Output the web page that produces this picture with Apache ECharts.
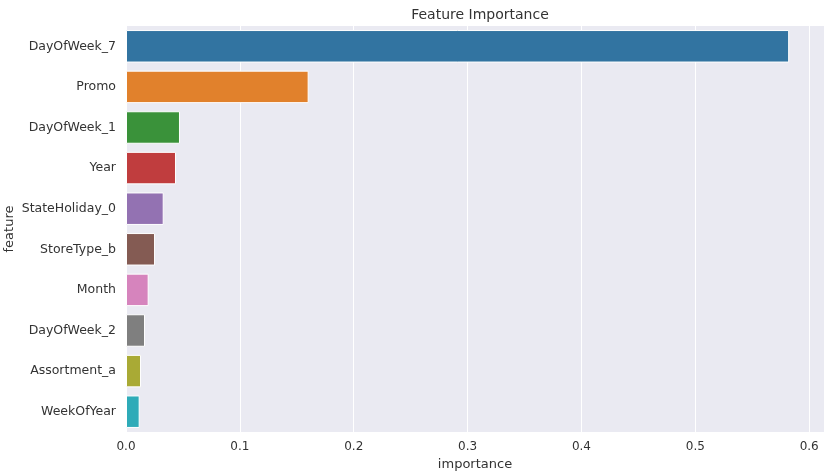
<!DOCTYPE html>
<html>
<head>
<meta charset="utf-8">
<script src="https://cdn.jsdelivr.net/npm/echarts@6/dist/echarts.min.js"></script>
<style>
  html, body { margin: 0; padding: 0; background: #fff; }
  #chart { width: 829px; height: 476px; }
</style>
</head>
<body>
<div id="chart"></div>
<script>
/* feature importance, seaborn-like barplot */

var features = ["DayOfWeek_7", "Promo", "DayOfWeek_1", "Year", "StateHoliday_0",
                "StoreType_b", "Month", "DayOfWeek_2", "Assortment_a", "WeekOfYear"];
var importance = [0.5824, 0.1604, 0.0474, 0.0439, 0.0331, 0.0255, 0.0199, 0.0167, 0.0132, 0.0120];
var barColors = ["#3274a1", "#e1812c", "#3a923a", "#c03d3e", "#9372b2",
                 "#845b53", "#d684bd", "#7f7f7f", "#a9aa35", "#2eabb8"];
var xTicks = [0, 0.1, 0.2, 0.3, 0.4, 0.5, 0.6];

var textColor = "#333";
var font = "DejaVu Sans";

var myChart = echarts.init(document.getElementById('chart'));

var barData = [];
for (var i = 0; i < features.length; i++) {
	barData.push({
		value: importance[i],
		itemStyle: { color: barColors[i] }
	});
}

option = {
	animation: false,
	backgroundColor: '#fff',
	title: {
		text: 'Feature Importance',
		left: 475,
		textAlign: 'center',
		top: 3,
		textStyle: { fontFamily: font, fontSize: 14, fontWeight: 'normal', color: textColor }
	},
	grid: {
		left: 126, right: 5, top: 26, bottom: 44,
		outerBoundsMode: 'none',
		containLabel: false,
		backgroundColor: '#eaeaf2',
		show: true,
		borderWidth: 0
	},
	xAxis: {
		type: 'value',
		min: 0,
		max: 0.613,
		interval: 0.1,
		name: 'importance',
		nameLocation: 'middle',
		nameGap: 26,
		nameMoveOverlap: false,
		nameTextStyle: { fontFamily: font, fontSize: 13, color: textColor },
		axisLine: { show: false },
		axisTick: { show: false },
		axisLabel: {
			fontFamily: font, fontSize: 12, color: textColor, margin: 9,
			showMaxLabel: false,
			formatter: function (v) {
				for (var k = 0; k < xTicks.length; k++) {
					if (Math.abs(v - xTicks[k]) < 1e-6) return xTicks[k].toFixed(1);
				}
				return '';
			}
		},
		splitLine: { show: true, lineStyle: { color: '#fff', width: 1 } }
	},
	yAxis: {
		type: 'category',
		data: features,
		inverse: true,
		name: 'feature',
		nameLocation: 'middle',
		nameGap: 110,
		nameRotate: 90,
		nameMoveOverlap: false,
		nameTextStyle: { fontFamily: font, fontSize: 13, color: textColor },
		axisLine: { show: false },
		axisTick: { show: false },
		axisLabel: { fontFamily: font, fontSize: 12.5, color: textColor, margin: 10 },
		splitLine: { show: false }
	},
	series: [{
		type: 'bar',
		data: barData,
		barCategoryGap: '20%',
		itemStyle: { borderColor: '#fff', borderWidth: 1 }
	}]
};

myChart.setOption(option);
</script>
</body>
</html>
